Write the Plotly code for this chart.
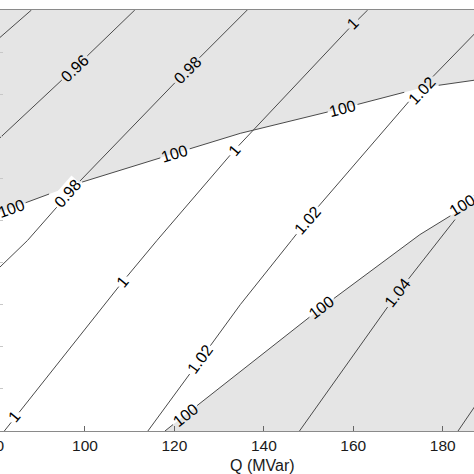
import math
import plotly.graph_objects as go

# ---------------- data ----------------
# x: reactive power Q (MVar); y: vertical quantity (axis labels not visible), ticks every 20
x_ticks = [100, 120, 140, 160, 180]
x_tick_labels = ["100", "120", "140", "160", "180"]
y_ticks = [20, 40, 60, 80, 100, 120, 140, 160, 180]

# voltage contour lines (p.u.)
v094_q = [80.85, 88.03]
v094_y = [186.7, 200.0]
v096_q = [80.85, 97.69, 111.15]
v096_y = [139.0, 172.4, 200.0]
v098_q = [80.85, 87.14, 98.36, 122.83, 136.29]
v098_y = [77.6, 90.5, 117.6, 171.4, 200.0]
v100_q = [81.97, 108.46, 116.09, 133.38, 156.43, 163.23]
v100_y = [0.0, 71.0, 90.5, 133.3, 185.7, 200.0]
v102_q = [114.07, 125.74, 134.72, 146.17, 152.01, 172.66, 187.25]
v102_y = [0.0, 33.8, 60.0, 90.5, 106.2, 157.1, 189.0]
v104_q = [147.97, 169.96, 180.07, 187.25]
v104_y = [0.0, 65.7, 93.3, 112.4]
v106_q = [183.43, 187.25]
v106_y = [0.0, 11.9]

# 100 % loading limit curves (shaded beyond)
upper100_q = [80.85, 98.36, 120.13, 134.72, 157.62, 175.35, 187.25]
upper100_y = [103.8, 117.6, 131.9, 141.4, 153.3, 163.1, 166.7]
lower100_q = [117.89, 122.38, 134.72, 152.90, 174.90, 181.86, 187.25]
lower100_y = [0.0, 7.6, 28.1, 58.6, 93.3, 102.4, 109.5]

# contour labels: text, Q, y, on-screen angle (deg), region
label_text = ["0.96", "0.98", "0.98", "100", "100", "100", "1", "1", "1.02",
              "1.02", "1", "1", "1.02", "100", "100", "1.04", "100"]
label_q = [97.69, 122.83, 96.11, 83.54, 120.13, 157.62, 159.86, 133.38, 175.35,
           149.76, 108.46, 84.22, 125.74, 122.38, 152.90, 169.96, 184.33]
label_y = [172.4, 171.4, 112.9, 105.7, 131.9, 153.3, 193.8, 133.3, 161.9,
           100.0, 71.0, 6.8, 33.8, 7.6, 58.6, 65.7, 107.1]
label_angle = [-43.5, -45, -48.7, -20, -17, -14, -45, -49.5, -47,
               -49, -51, -51, -54, -38.7, -37, -52.4, -32]
label_region = ["gray", "gray", "white", "edge", "edge", "edge", "gray", "white", "edge",
                "white", "white", "white", "white", "edge", "edge", "gray", "edge"]

# ---------------- styling ----------------
W, H = 474, 474
M_L, M_R, M_T, M_B = 0, 0, 10, 43
X_RANGE = [81.0, 187.0]
Y_RANGE = [0.0, 200.0]
GRAY = "rgb(229,229,229)"
LINE = "#4a4a4a"
FONT = "Liberation Sans, Arial, Helvetica, sans-serif"
LABEL_SIZE = 16


def to_px(q, y):
    pw = W - M_L - M_R
    ph = H - M_T - M_B
    return (M_L + (q - X_RANGE[0]) / (X_RANGE[1] - X_RANGE[0]) * pw,
            M_T + (Y_RANGE[1] - y) / (Y_RANGE[1] - Y_RANGE[0]) * ph)


def text_width(t):
    return sum(0.278 if c == "." else 0.556 for c in t) * LABEL_SIZE


def cut_line(qs, ys, labels):
    """Break a polyline where a label sits on it (like MATLAB clabel)."""
    pts = [to_px(q, y) for q, y in zip(qs, ys)]
    cum = [0.0]
    for i in range(1, len(pts)):
        cum.append(cum[-1] + math.dist(pts[i - 1], pts[i]))
    gaps = []
    for t, lq, ly in labels:
        lx, lyp = to_px(lq, ly)
        best = None
        for i in range(1, len(pts)):
            (x0, y0), (x1, y1) = pts[i - 1], pts[i]
            dx, dy = x1 - x0, y1 - y0
            L2 = dx * dx + dy * dy
            u = max(0.0, min(1.0, ((lx - x0) * dx + (lyp - y0) * dy) / L2))
            d = math.dist((lx, lyp), (x0 + u * dx, y0 + u * dy))
            if best is None or d < best[0]:
                best = (d, cum[i - 1] + u * math.sqrt(L2))
        if best[0] < 7:
            half = text_width(t) / 2 + 2
            gaps.append((best[1] - half, best[1] + half))

    def point_at(s):
        for i in range(1, len(pts)):
            if s <= cum[i] or i == len(pts) - 1:
                seg = cum[i] - cum[i - 1]
                u = (s - cum[i - 1]) / seg if seg else 0
                q = qs[i - 1] + u * (qs[i] - qs[i - 1])
                y = ys[i - 1] + u * (ys[i] - ys[i - 1])
                return q, y
    # build pieces
    breaks = sorted(gaps)
    out_q, out_y = [], []
    pos = 0.0
    idx = 0
    segments = []
    start = 0.0
    for a, b in breaks:
        segments.append((start, max(start, a)))
        start = max(start, b)
    segments.append((start, cum[-1]))
    for s0, s1 in segments:
        if s1 - s0 <= 0:
            continue
        q0, y0 = point_at(s0)
        out_q.append(q0); out_y.append(y0)
        for i in range(len(pts)):
            if s0 < cum[i] < s1:
                out_q.append(qs[i]); out_y.append(ys[i])
        q1, y1 = point_at(s1)
        out_q.append(q1); out_y.append(y1)
        out_q.append(None); out_y.append(None)
    return out_q, out_y


fig = go.Figure()

# shaded regions
fig.add_trace(go.Scatter(
    x=[X_RANGE[0] - 5] + upper100_q + [X_RANGE[1] + 5, X_RANGE[1] + 5, X_RANGE[0] - 5],
    y=[upper100_y[0]] + upper100_y + [upper100_y[-1], Y_RANGE[1] + 10, Y_RANGE[1] + 10],
    fill="toself", fillcolor=GRAY, mode="none", hoverinfo="skip", showlegend=False))
fig.add_trace(go.Scatter(
    x=lower100_q + [X_RANGE[1] + 5, X_RANGE[1] + 5, lower100_q[0]],
    y=lower100_y + [lower100_y[-1], Y_RANGE[0] - 10, Y_RANGE[0] - 10],
    fill="toself", fillcolor=GRAY, mode="none", hoverinfo="skip", showlegend=False))

labels = list(zip(label_text, label_q, label_y))
for qs, ys in [(v094_q, v094_y), (v096_q, v096_y), (v098_q, v098_y), (v100_q, v100_y),
               (v102_q, v102_y), (v104_q, v104_y), (v106_q, v106_y),
               (upper100_q, upper100_y), (lower100_q, lower100_y)]:
    cq, cy = cut_line(qs, ys, labels)
    fig.add_trace(go.Scatter(x=cq, y=cy, mode="lines", connectgaps=False,
                             line=dict(color=LINE, width=1),
                             hoverinfo="skip", showlegend=False))

bg_map = {"gray": GRAY, "white": "white", "edge": "rgba(0,0,0,0)"}
for t, q, yv, a, r in zip(label_text, label_q, label_y, label_angle, label_region):
    fig.add_annotation(x=q, y=yv, xref="x", yref="y", text=t, showarrow=False,
                       textangle=a, bgcolor=bg_map[r], borderpad=0,
                       font=dict(family=FONT, size=LABEL_SIZE, color="black"))

# partially visible "80" tick label at the left edge
fig.add_annotation(x=(80 - X_RANGE[0]) / (X_RANGE[1] - X_RANGE[0]), y=-0.0333,
                   xref="paper", yref="paper", text="80", showarrow=False,
                   xanchor="center", yanchor="middle",
                   font=dict(family=FONT, size=15.5, color="#1a1a1a"))
# axis title
fig.add_annotation(x=0.553, y=-0.081, xref="paper", yref="paper", text="Q (MVar)",
                   showarrow=False, xanchor="center", yanchor="middle",
                   font=dict(family=FONT, size=16, color="#1a1a1a"))

fig.update_layout(
    width=W, height=H,
    margin=dict(l=M_L, r=M_R, t=M_T, b=M_B),
    paper_bgcolor="white", plot_bgcolor="white",
    xaxis=dict(range=X_RANGE, tickvals=x_ticks, ticktext=x_tick_labels,
               ticks="inside", ticklen=5, tickcolor="#666", tickwidth=1,
               showline=True, linecolor="#8a8a8a", linewidth=1, mirror=True,
               showgrid=False, zeroline=False,
               tickfont=dict(family=FONT, size=15.5, color="#1a1a1a")),
    yaxis=dict(range=Y_RANGE, tickvals=y_ticks, ticks="inside", ticklen=3,
               tickcolor="#c8c8c8", showticklabels=False, showline=False,
               showgrid=False, zeroline=False),
    font=dict(family=FONT),
)

fig.write_html("out.html", config={"displayModeBar": False},
               post_script="document.body.style.margin='0';document.body.style.padding='0';")
